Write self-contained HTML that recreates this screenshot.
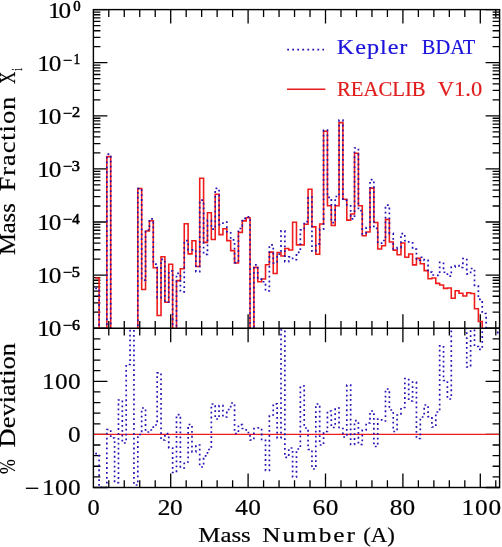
<!DOCTYPE html>
<html><head><meta charset="utf-8"><title>Mass fraction comparison</title>
<style>html,body{margin:0;padding:0;background:#fff;width:502px;height:547px;overflow:hidden}svg{display:block}</style>
</head><body>
<svg width="502" height="547" viewBox="0 0 502 547">
<defs><clipPath id="cu"><rect x="93.40" y="9.60" width="406.20" height="318.60"/></clipPath><clipPath id="cl"><rect x="93.40" y="328.20" width="406.20" height="159.30"/></clipPath></defs>
<g fill="none" stroke="#000">
<path d="M108.78 9.60v7.3M108.78 320.90v14.6M108.78 487.50v-7.3M124.26 9.60v7.3M124.26 320.90v14.6M124.26 487.50v-7.3M139.74 9.60v7.3M139.74 320.90v14.6M139.74 487.50v-7.3M155.22 9.60v7.3M155.22 320.90v14.6M155.22 487.50v-7.3M170.70 9.60v14.0M170.70 314.20v28.0M170.70 487.50v-14.0M186.18 9.60v7.3M186.18 320.90v14.6M186.18 487.50v-7.3M201.66 9.60v7.3M201.66 320.90v14.6M201.66 487.50v-7.3M217.14 9.60v7.3M217.14 320.90v14.6M217.14 487.50v-7.3M232.62 9.60v7.3M232.62 320.90v14.6M232.62 487.50v-7.3M248.10 9.60v14.0M248.10 314.20v28.0M248.10 487.50v-14.0M263.58 9.60v7.3M263.58 320.90v14.6M263.58 487.50v-7.3M279.06 9.60v7.3M279.06 320.90v14.6M279.06 487.50v-7.3M294.54 9.60v7.3M294.54 320.90v14.6M294.54 487.50v-7.3M310.02 9.60v7.3M310.02 320.90v14.6M310.02 487.50v-7.3M325.50 9.60v14.0M325.50 314.20v28.0M325.50 487.50v-14.0M340.98 9.60v7.3M340.98 320.90v14.6M340.98 487.50v-7.3M356.46 9.60v7.3M356.46 320.90v14.6M356.46 487.50v-7.3M371.94 9.60v7.3M371.94 320.90v14.6M371.94 487.50v-7.3M387.42 9.60v7.3M387.42 320.90v14.6M387.42 487.50v-7.3M402.90 9.60v14.0M402.90 314.20v28.0M402.90 487.50v-14.0M418.38 9.60v7.3M418.38 320.90v14.6M418.38 487.50v-7.3M433.86 9.60v7.3M433.86 320.90v14.6M433.86 487.50v-7.3M449.34 9.60v7.3M449.34 320.90v14.6M449.34 487.50v-7.3M464.82 9.60v7.3M464.82 320.90v14.6M464.82 487.50v-7.3M480.30 9.60v14.0M480.30 314.20v28.0M480.30 487.50v-14.0M495.78 9.60v7.3M495.78 320.90v14.6M495.78 487.50v-7.3M93.40 9.60h14.0M499.60 9.60h-14.0M93.40 46.72h7.0M499.60 46.72h-7.0M93.40 37.36h7.0M499.60 37.36h-7.0M93.40 30.73h7.0M499.60 30.73h-7.0M93.40 25.58h7.0M499.60 25.58h-7.0M93.40 21.38h7.0M499.60 21.38h-7.0M93.40 17.83h7.0M499.60 17.83h-7.0M93.40 14.75h7.0M499.60 14.75h-7.0M93.40 12.03h7.0M499.60 12.03h-7.0M93.40 62.70h14.0M499.60 62.70h-14.0M93.40 99.82h7.0M499.60 99.82h-7.0M93.40 90.46h7.0M499.60 90.46h-7.0M93.40 83.83h7.0M499.60 83.83h-7.0M93.40 78.68h7.0M499.60 78.68h-7.0M93.40 74.48h7.0M499.60 74.48h-7.0M93.40 70.93h7.0M499.60 70.93h-7.0M93.40 67.85h7.0M499.60 67.85h-7.0M93.40 65.13h7.0M499.60 65.13h-7.0M93.40 115.80h14.0M499.60 115.80h-14.0M93.40 152.92h7.0M499.60 152.92h-7.0M93.40 143.56h7.0M499.60 143.56h-7.0M93.40 136.93h7.0M499.60 136.93h-7.0M93.40 131.78h7.0M499.60 131.78h-7.0M93.40 127.58h7.0M499.60 127.58h-7.0M93.40 124.03h7.0M499.60 124.03h-7.0M93.40 120.95h7.0M499.60 120.95h-7.0M93.40 118.23h7.0M499.60 118.23h-7.0M93.40 168.90h14.0M499.60 168.90h-14.0M93.40 206.02h7.0M499.60 206.02h-7.0M93.40 196.66h7.0M499.60 196.66h-7.0M93.40 190.03h7.0M499.60 190.03h-7.0M93.40 184.88h7.0M499.60 184.88h-7.0M93.40 180.68h7.0M499.60 180.68h-7.0M93.40 177.13h7.0M499.60 177.13h-7.0M93.40 174.05h7.0M499.60 174.05h-7.0M93.40 171.33h7.0M499.60 171.33h-7.0M93.40 222.00h14.0M499.60 222.00h-14.0M93.40 259.12h7.0M499.60 259.12h-7.0M93.40 249.76h7.0M499.60 249.76h-7.0M93.40 243.13h7.0M499.60 243.13h-7.0M93.40 237.98h7.0M499.60 237.98h-7.0M93.40 233.78h7.0M499.60 233.78h-7.0M93.40 230.23h7.0M499.60 230.23h-7.0M93.40 227.15h7.0M499.60 227.15h-7.0M93.40 224.43h7.0M499.60 224.43h-7.0M93.40 275.10h14.0M499.60 275.10h-14.0M93.40 312.22h7.0M499.60 312.22h-7.0M93.40 302.86h7.0M499.60 302.86h-7.0M93.40 296.23h7.0M499.60 296.23h-7.0M93.40 291.08h7.0M499.60 291.08h-7.0M93.40 286.88h7.0M499.60 286.88h-7.0M93.40 283.33h7.0M499.60 283.33h-7.0M93.40 280.25h7.0M499.60 280.25h-7.0M93.40 277.53h7.0M499.60 277.53h-7.0M93.40 487.50h14.0M499.60 487.50h-14.0M93.40 476.88h7.0M499.60 476.88h-7.0M93.40 466.26h7.0M499.60 466.26h-7.0M93.40 455.64h7.0M499.60 455.64h-7.0M93.40 445.02h7.0M499.60 445.02h-7.0M93.40 434.40h14.0M499.60 434.40h-14.0M93.40 423.78h7.0M499.60 423.78h-7.0M93.40 413.16h7.0M499.60 413.16h-7.0M93.40 402.54h7.0M499.60 402.54h-7.0M93.40 391.92h7.0M499.60 391.92h-7.0M93.40 381.30h14.0M499.60 381.30h-14.0M93.40 370.68h7.0M499.60 370.68h-7.0M93.40 360.06h7.0M499.60 360.06h-7.0M93.40 349.44h7.0M499.60 349.44h-7.0M93.40 338.82h7.0M499.60 338.82h-7.0M93.40 328.20h14.0M499.60 328.20h-14.0" stroke-width="1.3"/>
</g>
<g clip-path="url(#cu)" fill="none">
<path d="M95.23 278.00L99.10 278.00L99.10 345.00L102.97 345.00L102.97 345.00L106.84 345.00L106.84 156.60L110.72 156.60L110.72 345.00L114.58 345.00L114.58 345.00L118.45 345.00L118.45 345.00L122.33 345.00L122.33 345.00L126.19 345.00L126.19 345.00L130.06 345.00L130.06 345.00L133.94 345.00L133.94 345.00L137.81 345.00L137.81 188.50L141.68 188.50L141.68 289.50L145.55 289.50L145.55 231.00L149.41 231.00L149.41 220.70L153.28 220.70L153.28 267.80L157.16 267.80L157.16 315.50L161.03 315.50L161.03 256.80L164.89 256.80L164.89 302.30L168.76 302.30L168.76 264.20L172.63 264.20L172.63 345.00L176.50 345.00L176.50 280.60L180.38 280.60L180.38 268.70L184.25 268.70L184.25 223.80L188.12 223.80L188.12 253.90L191.99 253.90L191.99 240.80L195.86 240.80L195.86 266.50L199.72 266.50L199.72 178.20L203.59 178.20L203.59 242.40L207.47 242.40L207.47 212.70L211.33 212.70L211.33 239.50L215.20 239.50L215.20 194.20L219.07 194.20L219.07 234.60L222.94 234.60L222.94 228.70L226.81 228.70L226.81 240.60L230.69 240.60L230.69 250.60L234.56 250.60L234.56 263.00L238.43 263.00L238.43 232.40L242.30 232.40L242.30 220.90L246.17 220.90L246.17 217.70L250.04 217.70L250.04 345.00L253.91 345.00L253.91 267.40L257.77 267.40L257.77 281.70L261.64 281.70L261.64 279.00L265.51 279.00L265.51 264.70L269.38 264.70L269.38 252.10L273.25 252.10L273.25 273.50L277.12 273.50L277.12 252.50L281.00 252.50L281.00 256.00L284.87 256.00L284.87 248.50L288.74 248.50L288.74 250.00L292.61 250.00L292.61 222.30L296.48 222.30L296.48 244.90L300.35 244.90L300.35 244.90L304.21 244.90L304.21 224.20L308.08 224.20L308.08 189.30L311.95 189.30L311.95 226.90L315.82 226.90L315.82 254.30L319.69 254.30L319.69 224.00L323.56 224.00L323.56 131.30L327.44 131.30L327.44 205.80L331.31 205.80L331.31 225.50L335.18 225.50L335.18 205.80L339.05 205.80L339.05 122.60L342.92 122.60L342.92 199.20L346.79 199.20L346.79 220.10L350.66 220.10L350.66 214.00L354.53 214.00L354.53 153.30L358.40 153.30L358.40 205.70L362.27 205.70L362.27 235.80L366.13 235.80L366.13 232.00L370.00 232.00L370.00 188.10L373.88 188.10L373.88 222.50L377.75 222.50L377.75 249.00L381.62 249.00L381.62 245.70L385.49 245.70L385.49 219.40L389.36 219.40L389.36 242.00L393.23 242.00L393.23 250.10L397.10 250.10L397.10 254.80L400.97 254.80L400.97 243.00L404.84 243.00L404.84 257.30L408.71 257.30L408.71 254.00L412.58 254.00L412.58 264.90L416.44 264.90L416.44 258.40L420.31 258.40L420.31 263.80L424.19 263.80L424.19 270.60L428.06 270.60L428.06 278.70L431.93 278.70L431.93 278.00L435.80 278.00L435.80 283.40L439.67 283.40L439.67 285.00L443.54 285.00L443.54 288.40L447.41 288.40L447.41 288.00L451.28 288.00L451.28 298.20L455.15 298.20L455.15 290.70L459.02 290.70L459.02 293.30L462.89 293.30L462.89 296.00L466.75 296.00L466.75 292.80L470.62 292.80L470.62 293.50L474.50 293.50L474.50 308.70L478.37 308.70L478.37 321.50L482.24 321.50L482.24 345.00L486.11 345.00L486.11 345.00L489.98 345.00L489.98 345.00L493.85 345.00L493.85 345.00L497.72 345.00" stroke="#ee1c1c" stroke-width="1.6"/>
<path d="M95.23 288.35L99.10 288.35L99.10 345.00L102.97 345.00L102.97 345.00L106.84 345.00L106.84 154.20L110.72 154.20L110.72 345.00L114.58 345.00L114.58 345.00L118.45 345.00L118.45 345.00L122.33 345.00L122.33 345.00L126.19 345.00L126.19 345.00L130.06 345.00L130.06 345.00L133.94 345.00L133.94 345.00L137.81 345.00L137.81 188.54L141.68 188.54L141.68 280.19L145.55 280.19L145.55 229.98L149.41 229.98L149.41 218.86L153.28 218.86L153.28 264.04L157.16 264.04L157.16 297.74L161.03 297.74L161.03 259.37L164.89 259.37L164.89 302.00L168.76 302.00L168.76 271.02L172.63 271.02L172.63 345.00L176.50 345.00L176.50 273.29L180.38 273.29L180.38 291.80L184.25 291.80L184.25 240.72L188.12 240.72L188.12 249.96L191.99 249.96L191.99 249.96L195.86 249.96L195.86 271.64L199.72 271.64L199.72 200.15L203.59 200.15L203.59 254.37L207.47 254.37L207.47 220.42L211.33 220.42L211.33 229.06L215.20 229.06L215.20 188.33L219.07 188.33L219.07 224.58L222.94 224.58L222.94 222.16L226.81 222.16L226.81 231.73L230.69 231.73L230.69 239.89L234.56 239.89L234.56 262.61L238.43 262.61L238.43 228.49L242.30 228.49L242.30 218.47L246.17 218.47L246.17 216.89L250.04 216.89L250.04 345.00L253.91 345.00L253.91 264.97L257.77 264.97L257.77 279.08L261.64 279.08L261.64 281.77L265.51 281.77L265.51 290.97L269.38 290.97L269.38 244.92L273.25 244.92L273.25 263.01L277.12 263.01L277.12 254.12L281.00 254.12L281.00 230.93L284.87 230.93L284.87 261.59L288.74 261.59L288.74 256.82L292.61 256.82L292.61 259.68L296.48 259.68L296.48 252.31L300.35 252.31L300.35 229.96L304.21 229.96L304.21 221.58L308.08 221.58L308.08 197.02L311.95 197.02L311.95 251.22L315.82 251.22L315.82 243.86L319.69 243.86L319.69 229.14L323.56 229.14L323.56 130.07L327.44 130.07L327.44 197.38L331.31 197.38L331.31 222.68L335.18 222.68L335.18 196.49L339.05 196.49L339.05 120.17L342.92 120.17L342.92 200.36L346.79 200.36L346.79 204.93L350.66 204.93L350.66 218.87L354.53 218.87L354.53 148.01L358.40 148.01L358.40 210.57L362.27 210.57L362.27 233.96L366.13 233.96L366.13 227.51L370.00 227.51L370.00 179.68L373.88 179.68L373.88 228.46L377.75 228.46L377.75 243.13L381.62 243.13L381.62 240.51L385.49 240.51L385.49 205.15L389.36 205.15L389.36 233.28L393.23 233.28L393.23 248.87L397.10 248.87L397.10 247.62L400.97 247.62L400.97 233.55L404.84 233.55L404.84 240.72L408.71 240.72L408.71 242.75L412.58 242.75L412.58 249.07L416.44 249.07L416.44 260.25L420.31 260.25L420.31 257.26L424.19 257.26L424.19 260.44L428.06 260.44L428.06 272.07L431.93 272.07L431.93 274.99L435.80 274.99L435.80 275.28L439.67 275.28L439.67 262.36L443.54 262.36L443.54 272.24L447.41 272.24L447.41 276.22L451.28 276.22L451.28 267.00L455.15 267.00L455.15 265.60L459.02 265.60L459.02 267.50L462.89 267.50L462.89 258.50L466.75 258.50L466.75 273.90L470.62 273.90L470.62 268.50L474.50 268.50L474.50 286.18L478.37 286.18L478.37 299.46L482.24 299.46L482.24 313.50L486.11 313.50L486.11 345.00L489.98 345.00L489.98 345.00L493.85 345.00L493.85 345.00L497.72 345.00" stroke="#2412b4" stroke-width="1.7" stroke-dasharray="1.8 3.1"/>
</g>
<g clip-path="url(#cl)" fill="none">
<path d="M93.40 434.40H499.60" stroke="#ee1c1c" stroke-width="1.4"/>
<path d="M95.23 453.60L99.10 453.60L99.10 487.30L102.97 487.30L102.97 487.30L106.84 487.30L106.84 429.50L110.72 429.50L110.72 438.00L114.58 438.00L114.58 482.60L118.45 482.60L118.45 400.00L122.33 400.00L122.33 443.00L126.19 443.00L126.19 364.50L130.06 364.50L130.06 318.00L133.94 318.00L133.94 485.00L137.81 485.00L137.81 434.50L141.68 434.50L141.68 408.00L145.55 408.00L145.55 432.00L149.41 432.00L149.41 430.00L153.28 430.00L153.28 425.00L157.16 425.00L157.16 372.80L161.03 372.80L161.03 440.00L164.89 440.00L164.89 433.70L168.76 433.70L168.76 448.00L172.63 448.00L172.63 472.50L176.50 472.50L176.50 414.60L180.38 414.60L180.38 468.00L184.25 468.00L184.25 462.00L188.12 462.00L188.12 424.50L191.99 424.50L191.99 451.80L195.86 451.80L195.86 445.00L199.72 445.00L199.72 467.00L203.59 467.00L203.59 455.90L207.47 455.90L207.47 449.50L211.33 449.50L211.33 404.00L215.20 404.00L215.20 419.00L219.07 419.00L219.07 405.50L222.94 405.50L222.94 417.00L226.81 417.00L226.81 409.50L230.69 409.50L230.69 403.00L234.56 403.00L234.56 433.50L238.43 433.50L238.43 424.60L242.30 424.60L242.30 428.50L246.17 428.50L246.17 432.50L250.04 432.50L250.04 440.00L253.91 440.00L253.91 428.50L257.77 428.50L257.77 428.00L261.64 428.00L261.64 440.40L265.51 440.40L265.51 470.50L269.38 470.50L269.38 415.00L273.25 415.00L273.25 403.80L277.12 403.80L277.12 438.00L281.00 438.00L281.00 330.00L284.87 330.00L284.87 457.40L288.74 457.40L288.74 448.00L292.61 448.00L292.61 477.00L296.48 477.00L296.48 449.00L300.35 449.00L300.35 386.00L304.21 386.00L304.21 428.00L308.08 428.00L308.08 449.50L311.95 449.50L311.95 469.00L315.82 469.00L315.82 404.00L319.69 404.00L319.69 445.00L323.56 445.00L323.56 431.50L327.44 431.50L327.44 411.00L331.31 411.00L331.31 427.50L335.18 427.50L335.18 408.00L339.05 408.00L339.05 428.50L342.92 428.50L342.92 437.00L346.79 437.00L346.79 385.00L350.66 385.00L350.66 444.50L354.53 444.50L354.53 420.70L358.40 420.70L358.40 444.50L362.27 444.50L362.27 430.00L366.13 430.00L366.13 423.00L370.00 423.00L370.00 411.00L373.88 411.00L373.88 446.50L377.75 446.50L377.75 419.00L381.62 419.00L381.62 421.00L385.49 421.00L385.49 389.00L389.36 389.00L389.36 410.00L393.23 410.00L393.23 431.50L397.10 431.50L397.10 415.00L400.97 415.00L400.97 407.50L404.84 407.50L404.84 378.50L408.71 378.50L408.71 401.00L412.58 401.00L412.58 382.00L416.44 382.00L416.44 438.50L420.31 438.50L420.31 417.00L424.19 417.00L424.19 405.00L428.06 405.00L428.06 416.70L431.93 416.70L431.93 427.00L435.80 427.00L435.80 412.00L439.67 412.00L439.67 345.80L443.54 345.80L443.54 380.50L447.41 380.50L447.41 399.00L451.28 399.00L451.28 318.00L455.15 318.00L455.15 318.00L459.02 318.00L459.02 318.00L462.89 318.00L462.89 318.00L466.75 318.00L466.75 367.00L470.62 367.00L470.62 318.00L474.50 318.00L474.50 346.50L478.37 346.50L478.37 349.40L482.24 349.40L482.24 318.00L486.11 318.00L486.11 318.00L489.98 318.00L489.98 318.00L493.85 318.00L493.85 318.00L497.72 318.00L497.72 334.00L501.59 334.00" stroke="#2412b4" stroke-width="1.7" stroke-dasharray="1.8 3.1"/>
</g>
<g fill="none" stroke="#000">
<rect x="93.40" y="9.60" width="406.20" height="477.90" stroke-width="1.4"/>
<path d="M93.40 328.20H499.60" stroke-width="1.4"/>
</g>
<g font-family='"Liberation Serif", "DejaVu Serif", serif' fill="#000" stroke="#000" stroke-width="0.2">
<g transform="scale(1.1000 1)"><text x="43.64" y="17.50" font-size="23.0" textLength="21.09" lengthAdjust="spacing">10</text></g>
<text x="73.20" y="11.21" font-size="14.0" textLength="7.40" lengthAdjust="spacingAndGlyphs" stroke-width="0.55">0</text>
<g transform="scale(1.1000 1)"><text x="33.91" y="70.60" font-size="23.0" textLength="21.82" lengthAdjust="spacing">10</text></g>
<text x="63.35" y="64.81" font-size="14.0" textLength="9.01" lengthAdjust="spacingAndGlyphs" stroke-width="0.55">−</text>
<text x="73.85" y="64.31" font-size="14.0" textLength="6.30" lengthAdjust="spacingAndGlyphs" stroke-width="0.55">1</text>
<g transform="scale(1.1000 1)"><text x="33.91" y="123.70" font-size="23.0" textLength="21.82" lengthAdjust="spacing">10</text></g>
<text x="63.35" y="117.91" font-size="14.0" textLength="9.01" lengthAdjust="spacingAndGlyphs" stroke-width="0.55">−</text>
<text x="72.00" y="117.41" font-size="14.0" textLength="8.15" lengthAdjust="spacingAndGlyphs" stroke-width="0.55">2</text>
<g transform="scale(1.1000 1)"><text x="33.91" y="176.80" font-size="23.0" textLength="21.82" lengthAdjust="spacing">10</text></g>
<text x="63.35" y="171.01" font-size="14.0" textLength="9.01" lengthAdjust="spacingAndGlyphs" stroke-width="0.55">−</text>
<text x="71.75" y="170.51" font-size="14.0" textLength="8.15" lengthAdjust="spacingAndGlyphs" stroke-width="0.55">3</text>
<g transform="scale(1.1000 1)"><text x="33.91" y="229.90" font-size="23.0" textLength="21.82" lengthAdjust="spacing">10</text></g>
<text x="63.35" y="224.11" font-size="14.0" textLength="9.01" lengthAdjust="spacingAndGlyphs" stroke-width="0.55">−</text>
<text x="72.25" y="223.61" font-size="14.0" textLength="7.40" lengthAdjust="spacingAndGlyphs" stroke-width="0.55">4</text>
<g transform="scale(1.1000 1)"><text x="33.91" y="283.00" font-size="23.0" textLength="21.82" lengthAdjust="spacing">10</text></g>
<text x="63.35" y="277.21" font-size="14.0" textLength="9.01" lengthAdjust="spacingAndGlyphs" stroke-width="0.55">−</text>
<text x="71.75" y="276.71" font-size="14.0" textLength="8.15" lengthAdjust="spacingAndGlyphs" stroke-width="0.55">5</text>
<g transform="scale(1.1000 1)"><text x="33.91" y="336.10" font-size="23.0" textLength="21.82" lengthAdjust="spacing">10</text></g>
<text x="63.35" y="330.31" font-size="14.0" textLength="9.01" lengthAdjust="spacingAndGlyphs" stroke-width="0.55">−</text>
<text x="72.00" y="329.81" font-size="14.0" textLength="7.90" lengthAdjust="spacingAndGlyphs" stroke-width="0.55">6</text>
<g transform="scale(1.1000 1)"><text x="38.18" y="389.30" font-size="23.0" textLength="35.18" lengthAdjust="spacing">100</text></g>
<text x="68.00" y="442.40" font-size="23.0" textLength="12.60" lengthAdjust="spacingAndGlyphs">0</text>
<text x="24.65" y="496.30" font-size="23.0" textLength="14.68" lengthAdjust="spacingAndGlyphs">−</text>
<g transform="scale(1.1000 1)"><text x="38.18" y="495.30" font-size="23.0" textLength="35.18" lengthAdjust="spacing">100</text></g>
<text x="87.40" y="515.10" font-size="23.0" textLength="12.20" lengthAdjust="spacingAndGlyphs">0</text>
<g transform="scale(1.1000 1)"><text x="143.45" y="515.10" font-size="23.0" textLength="22.64" lengthAdjust="spacing">20</text></g>
<g transform="scale(1.1000 1)"><text x="213.86" y="515.10" font-size="23.0" textLength="23.23" lengthAdjust="spacing">40</text></g>
<g transform="scale(1.1000 1)"><text x="284.00" y="515.10" font-size="23.0" textLength="23.73" lengthAdjust="spacing">60</text></g>
<g transform="scale(1.1000 1)"><text x="354.36" y="515.10" font-size="23.0" textLength="23.00" lengthAdjust="spacing">80</text></g>
<g transform="scale(1.1000 1)"><text x="419.64" y="515.10" font-size="23.0" textLength="35.91" lengthAdjust="spacing">100</text></g>
<g transform="scale(1.1289 1)"><text x="175.71" y="542.00" font-size="22.0" textLength="46.45" lengthAdjust="spacing">Mass</text></g>
<g transform="scale(1.1500 1)"><text x="228.03" y="542.00" font-size="22.0" textLength="80.50" lengthAdjust="spacing">Number</text></g>
<g transform="scale(1.0351 1)"><text x="350.85" y="542.00" font-size="22.0" textLength="30.55" lengthAdjust="spacing">(A)</text></g>
<g transform="translate(15.20 254.30) rotate(-90)"><g transform="scale(1.0681 1)"><text x="-0.75" y="0.00" font-size="23.0" textLength="48.56" lengthAdjust="spacing">Mass</text></g><g transform="scale(1.1500 1)"><text x="54.73" y="0.00" font-size="23.0" textLength="82.29" lengthAdjust="spacing">Fraction</text></g><text x="170.60" y="0.00" font-size="23.0" textLength="12.08" lengthAdjust="spacingAndGlyphs">X</text><text x="183.45" y="6.70" font-size="14.3" textLength="2.68" lengthAdjust="spacingAndGlyphs">i</text></g>
<g transform="translate(15.30 473.30) rotate(-90)"><text x="-0.75" y="0.00" font-size="23.0" textLength="14.87" lengthAdjust="spacingAndGlyphs">%</text><g transform="scale(1.1500 1)"><text x="22.47" y="0.00" font-size="23.0" textLength="90.86" lengthAdjust="spacing">Deviation</text></g></g>
</g>
<path d="M287.2 49.6H324" stroke="#2412b4" stroke-width="1.7" stroke-dasharray="1.8 3.23" fill="none"/>
<path d="M287 89.3H325.4" stroke="#e81c1c" stroke-width="1.5" fill="none"/>
<g font-family='"Liberation Serif", "DejaVu Serif", serif'>
<g transform="scale(1.1500 1)"><text x="292.89" y="54.30" font-size="21.0" textLength="61.34" lengthAdjust="spacing" fill="#1c14dc" stroke="#1c14dc" stroke-width="0.2">Kepler</text></g>
<g transform="scale(0.9741 1)"><text x="433.04" y="54.30" font-size="21.0" textLength="54.84" lengthAdjust="spacing" fill="#1c14dc" stroke="#1c14dc" stroke-width="0.2">BDAT</text></g>
<g transform="scale(0.9743 1)"><text x="345.80" y="96.40" font-size="21.3" textLength="91.11" lengthAdjust="spacing" fill="#e01c1c" stroke="#e01c1c" stroke-width="0.2">REACLIB</text></g>
<g transform="scale(1.0561 1)"><text x="414.58" y="96.40" font-size="21.3" textLength="42.02" lengthAdjust="spacing" fill="#e01c1c" stroke="#e01c1c" stroke-width="0.2">V1.0</text></g>
</g>
</svg>
</body></html>
